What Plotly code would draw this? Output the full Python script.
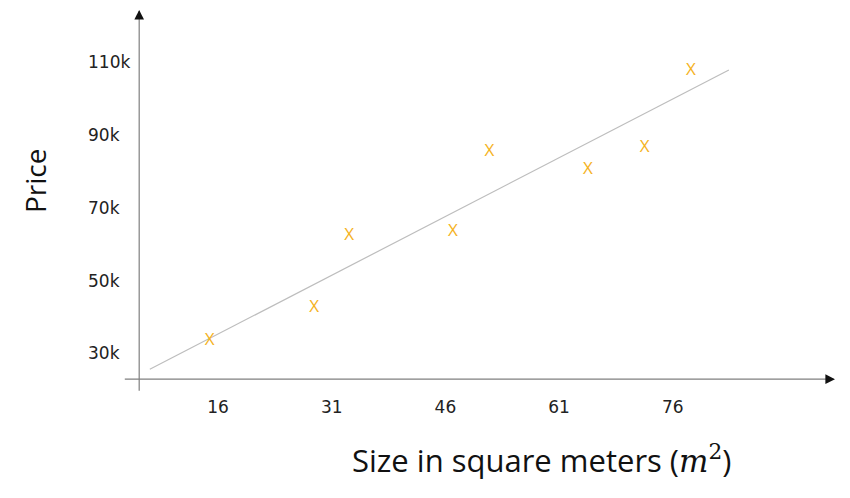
import plotly.graph_objects as go

# Data: house size (m^2) vs price (thousands)
sizes = [14.9, 28.7, 33.3, 47.0, 51.8, 64.8, 72.3, 78.4]
prices = [34.9, 43.8, 63.6, 64.7, 86.7, 81.8, 88.0, 109.1]

# Fitted straight line (two end points)
fit_x = [7.0, 83.4]
fit_y = [27.0, 109.3]

# Tick labels
x_ticks = [16, 31, 46, 61, 76]
y_ticks = [30, 50, 70, 90, 110]
y_labels = ['30k', '50k', '70k', '90k', '110k']

fig = go.Figure()

# Regression line
fig.add_trace(go.Scatter(x=fit_x, y=fit_y, mode='lines',
                         line=dict(color='#BDBDBD', width=1.2), hoverinfo='skip'))

# Data points drawn as letter X
fig.add_trace(go.Scatter(x=sizes, y=prices, mode='text', text=['X'] * len(sizes),
                         textposition='middle center',
                         textfont=dict(family='Open Sans', size=17, color='#F5B21C')))

# Hand-drawn style axes with arrows
axis_y_at = 5.6     # x value where the vertical axis sits
axis_x_at = 24.3    # y value where the horizontal axis sits
fig.add_shape(type='line', x0=3.7, x1=97.2, y0=axis_x_at, y1=axis_x_at,
              line=dict(color='#7F7F7F', width=1.2))
fig.add_shape(type='line', x0=axis_y_at, x1=axis_y_at, y0=21.1, y1=125.5,
              line=dict(color='#7F7F7F', width=1.2))
fig.add_annotation(x=97.4, y=axis_x_at, ax=-10, ay=0, showarrow=True, text='',
                   arrowhead=2, arrowsize=1.6, arrowwidth=1.2, arrowcolor='#111111')
fig.add_annotation(x=axis_y_at, y=125.8, ax=0, ay=10, showarrow=True, text='',
                   arrowhead=2, arrowsize=1.6, arrowwidth=1.2, arrowcolor='#111111')

# Axis titles
fig.add_annotation(xref='paper', yref='paper', x=0.601, y=-0.177,
                   xanchor='center', yanchor='middle',
                   text='Size in square meters (<span style="font-family:DejaVu Serif"><i>m</i><sup>2</sup></span>)',
                   showarrow=False, font=dict(family='Open Sans', size=31, color='#111111'))
fig.add_annotation(xref='paper', yref='paper', x=-0.0658, y=0.552, text='Price',
                   xanchor='center', yanchor='middle',
                   textangle=-90, showarrow=False,
                   font=dict(family='Open Sans', size=28, color='#111111'))

# page body adds an 8px margin, so the figure is a bit smaller than the window
fig.update_layout(
    width=842,
    height=490,
    showlegend=False,
    paper_bgcolor='white',
    plot_bgcolor='white',
    margin=dict(l=77, r=5, t=0, b=106),
    xaxis=dict(range=[-1.55, 98.72], tickvals=x_ticks, showgrid=False, zeroline=False,
               showline=False, ticks='', ticklabelstandoff=3,
               tickfont=dict(family='DejaVu Sans', size=17, color='#222222')),
    yaxis=dict(range=[20.77, 126.32], tickvals=y_ticks, ticktext=y_labels,
               showgrid=False, zeroline=False, showline=False, ticks='',
               ticklabelposition='inside', ticklabelshift=-5,
               tickfont=dict(family='DejaVu Sans', size=17, color='#222222')),
)

fig.write_html('out.html')
